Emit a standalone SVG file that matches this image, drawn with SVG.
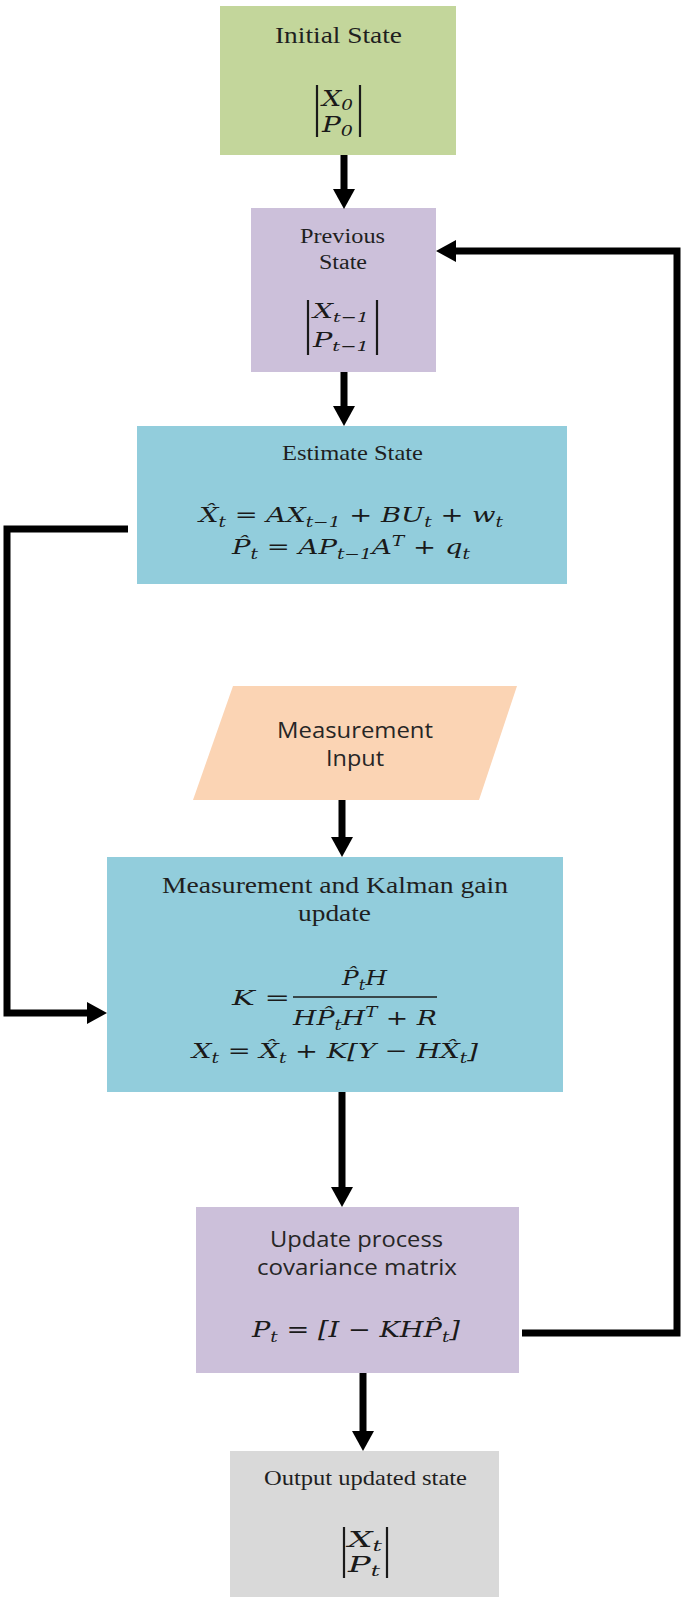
<svg xmlns="http://www.w3.org/2000/svg" width="685" height="1601" viewBox="0 0 685 1601">
<style>
.t { font-family: "Liberation Serif", "Times New Roman", serif; fill: #1f1f1f; }
.s { font-family: "Open Sans", "Liberation Sans", sans-serif; fill: #262626; }
.m { font-family: "DejaVu Serif", "Liberation Serif", serif; font-style: italic; fill: #1a1a1a; }
.sub { font-size: 0.68em; }
.bar { stroke: #1a1a1a; stroke-width: 2.2; }
.conn { fill: none; stroke: #000; stroke-width: 7; stroke-linejoin: miter; }
</style>
<defs>
<marker id="ah" markerUnits="userSpaceOnUse" markerWidth="20" markerHeight="22" viewBox="0 0 20 22" refX="1" refY="11" orient="auto">
<path d="M0,0 L20,11 L0,22 Z" fill="#000"/>
</marker>
</defs>
<rect width="685" height="1601" fill="#fff"/>

<g id="initial-state">
<rect x="220" y="6" width="236" height="149" fill="#c3d69b"/>
<text class="t" x="275" y="43" font-size="24" textLength="127" lengthAdjust="spacingAndGlyphs">Initial State</text>
<line class="bar" x1="317" y1="85" x2="317" y2="137"/>
<line class="bar" x1="360" y1="85" x2="360" y2="137"/>
<text class="m" x="322" y="106" font-size="22" textLength="31" lengthAdjust="spacingAndGlyphs">X<tspan class="sub" dy="4">0</tspan></text>
<text class="m" x="322" y="132" font-size="22" textLength="31" lengthAdjust="spacingAndGlyphs">P<tspan class="sub" dy="4">0</tspan></text>
</g>

<g id="previous-state">
<rect x="251" y="208" width="185" height="164" fill="#ccc0da"/>
<text class="t" x="300" y="243" font-size="20" textLength="85" lengthAdjust="spacingAndGlyphs">Previous</text>
<text class="t" x="319" y="269" font-size="20" textLength="48" lengthAdjust="spacingAndGlyphs">State</text>
<line class="bar" x1="308" y1="300" x2="308" y2="355"/>
<line class="bar" x1="377" y1="300" x2="377" y2="355"/>
<text class="m" x="313" y="318" font-size="20" textLength="56" lengthAdjust="spacingAndGlyphs">X<tspan class="sub" dy="4">t−1</tspan></text>
<text class="m" x="313" y="347" font-size="20" textLength="56" lengthAdjust="spacingAndGlyphs">P<tspan class="sub" dy="4">t−1</tspan></text>
</g>

<g id="estimate-state">
<rect x="137" y="426" width="430" height="158" fill="#92cddc"/>
<text class="t" x="282" y="460" font-size="21" textLength="141" lengthAdjust="spacingAndGlyphs">Estimate State</text>
<text class="m" x="199" y="522" font-size="21" textLength="304" lengthAdjust="spacingAndGlyphs">X̂<tspan class="sub" dy="5">t</tspan><tspan dy="-5"> = AX</tspan><tspan class="sub" dy="5">t−1</tspan><tspan dy="-5"> + BU</tspan><tspan class="sub" dy="5">t</tspan><tspan dy="-5"> + w</tspan><tspan class="sub" dy="5">t</tspan></text>
<text class="m" x="232" y="554" font-size="21" textLength="238" lengthAdjust="spacingAndGlyphs">P̂<tspan class="sub" dy="5">t</tspan><tspan dy="-5"> = AP</tspan><tspan class="sub" dy="5">t−1</tspan><tspan dy="-5">A</tspan><tspan class="sub" dy="-8">T</tspan><tspan dy="8"> + q</tspan><tspan class="sub" dy="5">t</tspan></text>
</g>

<g id="measurement-input">
<polygon points="233,686 517,686 479,800 193,800" fill="#fbd4b4"/>
<text class="s" x="277" y="738" font-size="22" textLength="156" lengthAdjust="spacingAndGlyphs">Measurement</text>
<text class="s" x="326" y="766" font-size="22" textLength="58" lengthAdjust="spacingAndGlyphs">Input</text>
</g>

<g id="kalman-update">
<rect x="107" y="857" width="456" height="235" fill="#92cddc"/>
<text class="t" x="162" y="893" font-size="23" textLength="346" lengthAdjust="spacingAndGlyphs">Measurement and Kalman gain</text>
<text class="t" x="298" y="921" font-size="23" textLength="73" lengthAdjust="spacingAndGlyphs">update</text>
<text class="m" x="232" y="1005" font-size="21" textLength="58" lengthAdjust="spacingAndGlyphs">K =</text>
<line x1="293" y1="997" x2="437" y2="997" stroke="#1a1a1a" stroke-width="1.6"/>
<text class="m" x="342" y="985" font-size="21" textLength="45" lengthAdjust="spacingAndGlyphs">P̂<tspan class="sub" dy="5">t</tspan><tspan dy="-5">H</tspan></text>
<text class="m" x="293" y="1025" font-size="21" textLength="144" lengthAdjust="spacingAndGlyphs">HP̂<tspan class="sub" dy="5">t</tspan><tspan dy="-5">H</tspan><tspan class="sub" dy="-8">T</tspan><tspan dy="8"> + R</tspan></text>
<text class="m" x="192" y="1058" font-size="21" textLength="286" lengthAdjust="spacingAndGlyphs">X<tspan class="sub" dy="5">t</tspan><tspan dy="-5"> = X̂</tspan><tspan class="sub" dy="5">t</tspan><tspan dy="-5"> + K[Y − HX̂</tspan><tspan class="sub" dy="5">t</tspan><tspan dy="-5">]</tspan></text>
</g>

<g id="update-covariance">
<rect x="196" y="1207" width="323" height="166" fill="#ccc0da"/>
<text class="s" x="270" y="1247" font-size="22" textLength="173" lengthAdjust="spacingAndGlyphs">Update process</text>
<text class="s" x="257" y="1275" font-size="22" textLength="200" lengthAdjust="spacingAndGlyphs">covariance matrix</text>
<text class="m" x="252" y="1337" font-size="22" textLength="208" lengthAdjust="spacingAndGlyphs">P<tspan class="sub" dy="5">t</tspan><tspan dy="-5"> = [I − KHP̂</tspan><tspan class="sub" dy="5">t</tspan><tspan dy="-5">]</tspan></text>
</g>

<g id="output-state">
<rect x="230" y="1451" width="269" height="146" fill="#d9d9d9"/>
<text class="t" x="264" y="1485" font-size="22" textLength="203" lengthAdjust="spacingAndGlyphs">Output updated state</text>
<line class="bar" x1="344" y1="1527" x2="344" y2="1578"/>
<line class="bar" x1="387" y1="1527" x2="387" y2="1578"/>
<text class="m" x="348" y="1547" font-size="22" textLength="34" lengthAdjust="spacingAndGlyphs">X<tspan class="sub" dy="4">t</tspan></text>
<text class="m" x="348" y="1572" font-size="22" textLength="32" lengthAdjust="spacingAndGlyphs">P<tspan class="sub" dy="4">t</tspan></text>
</g>

<g id="connectors">
<path class="conn" d="M344,155 V190" marker-end="url(#ah)"/>
<path class="conn" d="M344,372 V407" marker-end="url(#ah)"/>
<path class="conn" d="M342,800 V838" marker-end="url(#ah)"/>
<path class="conn" d="M342,1092 V1188" marker-end="url(#ah)"/>
<path class="conn" d="M363,1373 V1432" marker-end="url(#ah)"/>
<path class="conn" d="M128,529 H7 V1013 H88" marker-end="url(#ah)"/>
<path class="conn" d="M522,1333 H677 V251 H455" marker-end="url(#ah)"/>
</g>
</svg>
